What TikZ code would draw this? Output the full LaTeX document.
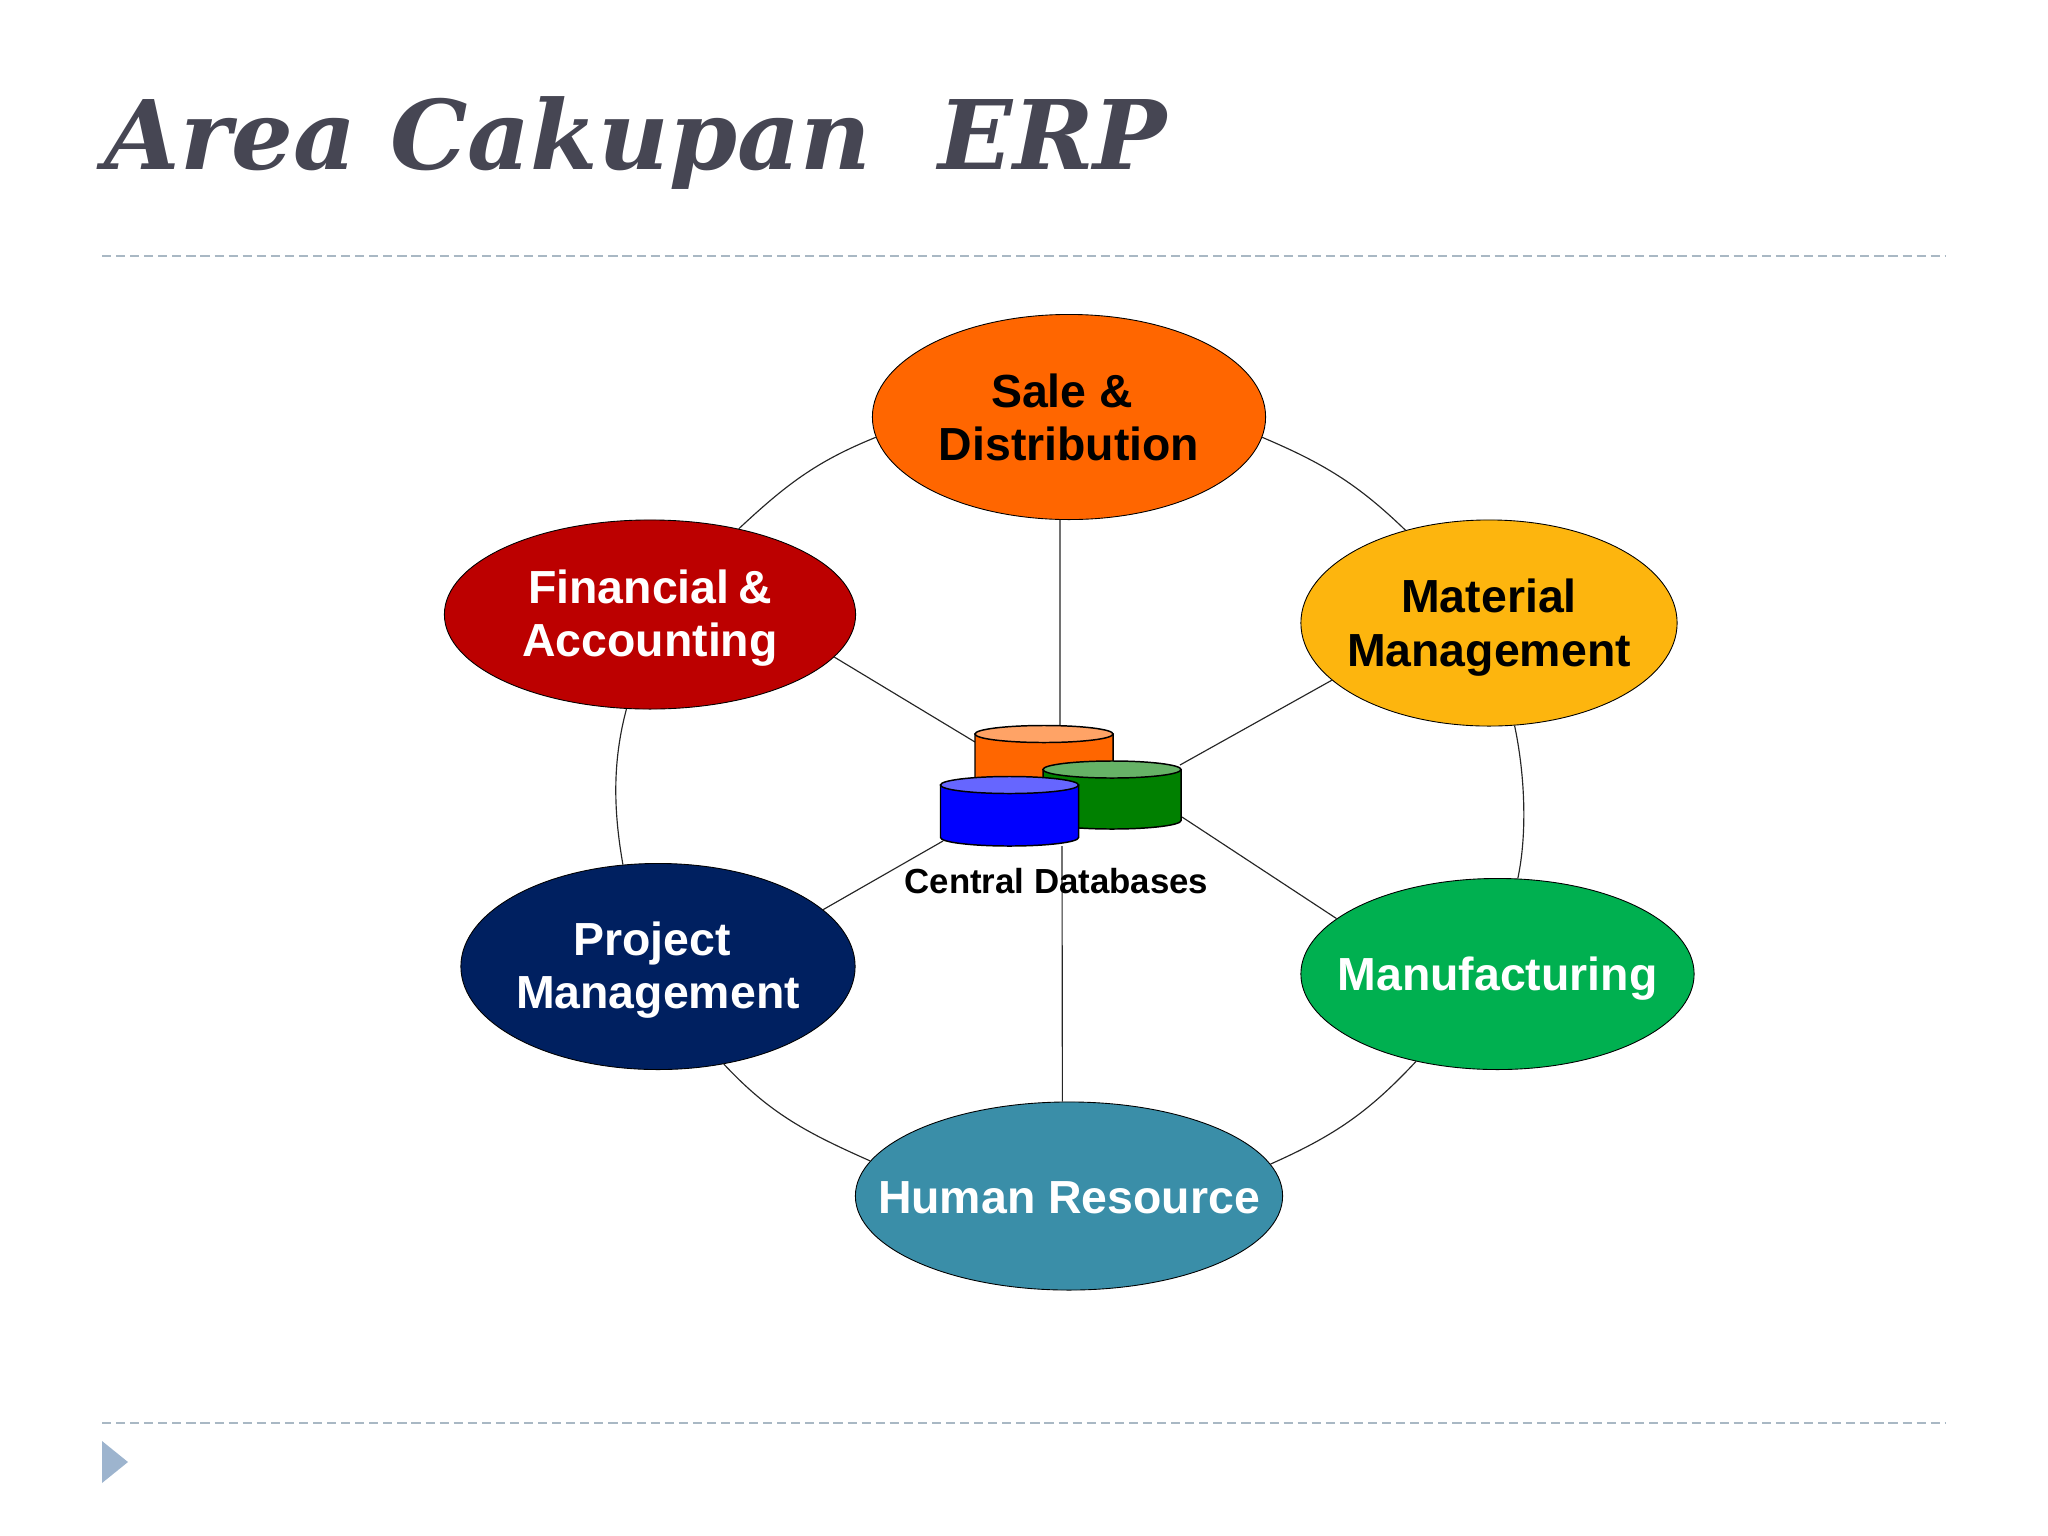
\documentclass[tikz,border=0pt]{standalone}
\usepackage{fontspec}
\setmainfont{Liberation Sans}
\newfontfamily\titlefont{DejaVu Serif}
\usetikzlibrary{shapes.geometric}
\definecolor{titlecol}{HTML}{464653}
\definecolor{rulecol}{HTML}{A9B8C4}
\definecolor{tricol}{HTML}{9DB4CE}
\definecolor{cSale}{HTML}{FF6600}
\definecolor{cFin}{HTML}{BC0000}
\definecolor{cMat}{HTML}{FDB50E}
\definecolor{cProj}{HTML}{002060}
\definecolor{cMan}{HTML}{00B050}
\definecolor{cHum}{HTML}{3A8EA8}
\definecolor{cOrTop}{HTML}{FFA366}
\definecolor{cGr}{HTML}{008000}
\definecolor{cGrTop}{HTML}{66B266}
\definecolor{cBl}{HTML}{0000FF}
\definecolor{cBlTop}{HTML}{6666FF}
% #1 = extra downward shift, #2 = the lines
\newcommand\areatext[2]{\smash{\raisebox{\dimexpr-0.27em-#1\relax}{\makebox[0pt]{\begin{tabular}{@{}c@{}}#2\end{tabular}}}}}
% #1 = centre x, #2 = y of top ellipse, #3 = y of bottom arc, #4 body, #5 top
\newcommand\dbdrum[5]{%
  \draw[dbline,fill=#4] (#1-69,#2) -- (#1-69,#3)
     arc[start angle=180,end angle=360,x radius=0.69cm,y radius=0.085cm]
     -- (#1+69,#2) -- cycle;
  \draw[dbline,fill=#5] (#1,#2) ellipse[x radius=0.69cm,y radius=0.085cm];
}
\tikzset{
  x=0.01cm,y=-0.01cm,
  area/.style n args={3}{ellipse,draw=black,line width=0.25pt,fill=#1,inner sep=0pt,
    minimum width=#2*0.1mm,minimum height=#3*0.1mm,
    font=\fontsize{13.2}{15.3}\selectfont\bfseries},
  link/.style={draw=black!85,line width=0.33pt},
  dashrule/.style={draw=rulecol,line width=0.5pt,dash pattern=on 2.6pt off 1.4pt},
  dbline/.style={draw=black,line width=0.42pt}
}
\begin{document}
\begin{tikzpicture}
\useasboundingbox (0,0) rectangle (2048,1536);
\node[anchor=base west,inner sep=0pt,text=titlecol,font=\titlefont\fontsize{27.3}{30}\selectfont\bfseries\itshape] (title) at (104,169) {\scalebox{1.014}[1]{Area Cakupan\ \ ERP}};
\coordinate (r1a) at (102,256); \coordinate (r1b) at (1946,256);
\coordinate (r2a) at (102,1423); \coordinate (r2b) at (1946,1423);
\draw[dashrule] (r1a) -- (r1b);
\draw[dashrule] (r2a) -- (r2b);
\fill[tricol] (102,1441) -- (128,1462) -- (102,1483) -- cycle;

\node[area={cSale}{393}{205}] (sale) at (1069,417) {\areatext{1.2pt}{Sale \&\hspace*{0.3em}\\Distribution}};
\node[area={cFin}{411}{189},text=white] (fin) at (650,614.5) {\areatext{0.8pt}{Financial\hspace{0.19em}\&\\Accounting}};
\node[area={cMat}{376}{206}] (mat) at (1489,623) {\areatext{1pt}{Material\\Management}};
\node[area={cProj}{394}{206},text=white] (proj) at (658,966.5) {\areatext{0.8pt}{Project\hspace*{0.25em}\\Management}};
\node[area={cMan}{393}{191},text=white] (man) at (1497.5,974) {\areatext{1.2pt}{Manufacturing}};
\node[area={cHum}{427}{188},text=white] (hum) at (1069,1196) {\areatext{1.36pt}{Human Resource}};

\draw[link] (sale.186) to[out=202,in=43] (fin.44.6);
\draw[link] (fin.256.4) to[out=255,in=100,looseness=0.9] (proj.109.5);
\draw[link] (proj.304.2) to[out=313,in=156] (hum.170.4);
\draw[link] (hum.9.6) to[out=24,in=227] (man.227);
\draw[link] (man.78.8) to[out=78,in=282,looseness=0.8] (mat.284.9);
\draw[link] (mat.132.9) to[out=136,in=337] (sale.354);

\coordinate (dS) at (1060,726);
\coordinate (dF) at (975,742);
\coordinate (dM) at (1180,765);
\coordinate (dP) at (943,841);
\coordinate (dN) at (1182,817);
\coordinate (dH) at (1062,846);
\draw[link] (sale.265) -- (dS);
\draw[link] (fin.347.1) -- (dF);
\draw[link] (mat.200.6) -- (dM);
\draw[link] (proj.19.2) -- (dP);
\draw[link] (man.161) -- (dN);
\draw[link] (hum.94.3) -- (dH);

\dbdrum{1044}{734}{785}{cSale}{cOrTop}
\dbdrum{1112}{769.5}{820.5}{cGr}{cGrTop}
\dbdrum{1009.5}{785}{837.5}{cBl}{cBlTop}
\node[inner sep=0pt,font=\fontsize{9.9}{12}\selectfont\bfseries] (cdb) at (1056.5,881.5) {Central Databases};
\end{tikzpicture}
\end{document}
